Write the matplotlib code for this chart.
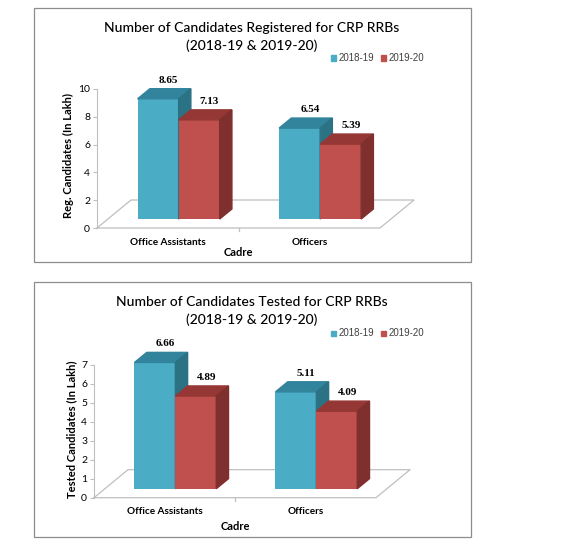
import matplotlib
matplotlib.use("Agg")
import matplotlib.pyplot as plt
from matplotlib.patches import Polygon, Rectangle

plt.rcParams["font.family"] = ["Lato", "DejaVu Sans"]

categories = ["Office Assistants", "Officers"]
series = ["2018-19", "2019-20"]
registered_1819 = [8.65, 6.54]
registered_1920 = [7.13, 5.39]
tested_1819 = [6.66, 5.11]
tested_1920 = [4.89, 4.09]

W, H = 572, 556
front_cols = ["#4BACC6", "#C0504D"]
top_cols = ["#31849B", "#953735"]
side_cols = ["#2B7285", "#7F2F2D"]
grid_col = "#BFBFBF"

fig = plt.figure(figsize=(W / 100, H / 100), dpi=100)

# depth of the 3d floor in pixels
DEPTH_X, DEPTH_Y = 34, 28
Z0, Z1 = 0.32, 0.68
BAR_W = 0.29


def panel(box, x_left, x_right, y0_px, unit_px, ylim, yticks, vals, title, ylabel,
          title_y, legend_y, xlab_y, cadre_y):
    # outer frame
    fig.add_artist(Rectangle((box[0] / W, 1 - box[3] / H), (box[2] - box[0]) / W,
                             (box[3] - box[1]) / H, transform=fig.transFigure,
                             fill=False, edgecolor="#8C8C8C", lw=0.9))
    bot_px = y0_px - ylim[0] * unit_px
    top_px = y0_px - ylim[1] * unit_px
    ax = fig.add_axes([x_left / W, 1 - bot_px / H, (x_right - x_left) / W,
                       (bot_px - top_px) / H])
    ax.set_xlim(-0.5, len(categories) - 0.5)
    ax.set_ylim(*ylim)
    ux = (x_right - x_left) / len(categories)
    dx = DEPTH_X / ux
    dy = DEPTH_Y / unit_px

    for s in ["top", "right", "bottom"]:
        ax.spines[s].set_visible(False)
    ax.spines["left"].set_bounds(0, yticks[-1])
    ax.spines["left"].set_color(grid_col)
    ax.set_yticks(yticks)
    ax.tick_params(axis="y", length=3, color=grid_col, labelsize=7.5, pad=2)
    ax.set_xticks([])

    # floor outline
    x_a, x_b = -0.5, len(categories) - 0.5
    ax.plot([x_a, x_b, x_b + dx, x_a + dx, x_a], [0, 0, dy, dy, 0],
            color=grid_col, lw=0.9, clip_on=False)
    ax.plot([0.5, 0.5], [0, -3 / unit_px], color=grid_col, lw=0.9, clip_on=False)

    for si, data in enumerate(vals):
        xs = [i - BAR_W + si * BAR_W + BAR_W / 2 + Z0 * dx for i in range(len(categories))]
        base = Z0 * dy
        ax.bar(xs, data, width=BAR_W, bottom=base, color=front_cols[si],
               label=series[si], zorder=3 + si, clip_on=False)
        for x, v in zip(xs, data):
            l, r = x - BAR_W / 2, x + BAR_W / 2
            t = base + v
            ddx, ddy = (Z1 - Z0) * dx, (Z1 - Z0) * dy
            ax.add_patch(Polygon([(l, t), (r, t), (r + ddx, t + ddy), (l + ddx, t + ddy)],
                                 closed=True, color=top_cols[si], zorder=3 + si, clip_on=False))
            ax.add_patch(Polygon([(r, base), (r + ddx, base + ddy), (r + ddx, t + ddy), (r, t)],
                                 closed=True, color=side_cols[si], zorder=3 + si, clip_on=False))
            ax.text(x + ddx / 2 + 0.03, t + ddy + 4 / unit_px, f"{v:.2f}", ha="center",
                    va="bottom", fontsize=8, fontweight="bold", zorder=10,
                    family="Liberation Serif")

    ax.set_ylabel(ylabel, fontsize=8, fontweight="bold", labelpad=3)

    cx = (x_left + x_right) / 2
    fig.text(252 / W, 1 - title_y / H, title, ha="center", va="center", fontsize=10,
             fontweight="medium", linespacing=1.6)
    for i, c in enumerate(categories):
        px = x_left + ux * (i + 0.5)
        fig.text(px / W, 1 - xlab_y / H, c, ha="center", va="center", fontsize=7.2,
                 fontweight="bold")
    fig.text(cx / W, 1 - cadre_y / H, "Cadre", ha="center", va="center", fontsize=8,
             fontweight="bold")
    # legend
    for si, s in enumerate(series):
        lx = 333 + si * 50
        fig.add_artist(Rectangle(((lx - 2.5) / W, 1 - (legend_y + 2.5) / H), 5 / W, 5 / H,
                                 transform=fig.transFigure, color=front_cols[si]))
        fig.text((lx + 6) / W, 1 - legend_y / H, s, ha="left", va="center", fontsize=7,
                 color="#404040", family="Liberation Sans")
    return ax


panel((34, 8, 471, 262), 97, 380, 228, 13.9, (-0.5, 11), [0, 2, 4, 6, 8, 10],
      [registered_1819, registered_1920],
      "Number of Candidates Registered for CRP RRBs\n(2018-19 & 2019-20)",
      "Reg. Candidates (In Lakh)", 37, 58, 243, 252)
panel((34, 282, 471, 537), 94, 376, 497.7, 18.96, (-0.4, 7.6), [0, 1, 2, 3, 4, 5, 6, 7],
      [tested_1819, tested_1920],
      "Number of Candidates Tested for CRP RRBs\n(2018-19 & 2019-20)",
      "Tested Candidates (In Lakh)", 311, 333, 512, 527)

fig.savefig("out.png", dpi=100)
